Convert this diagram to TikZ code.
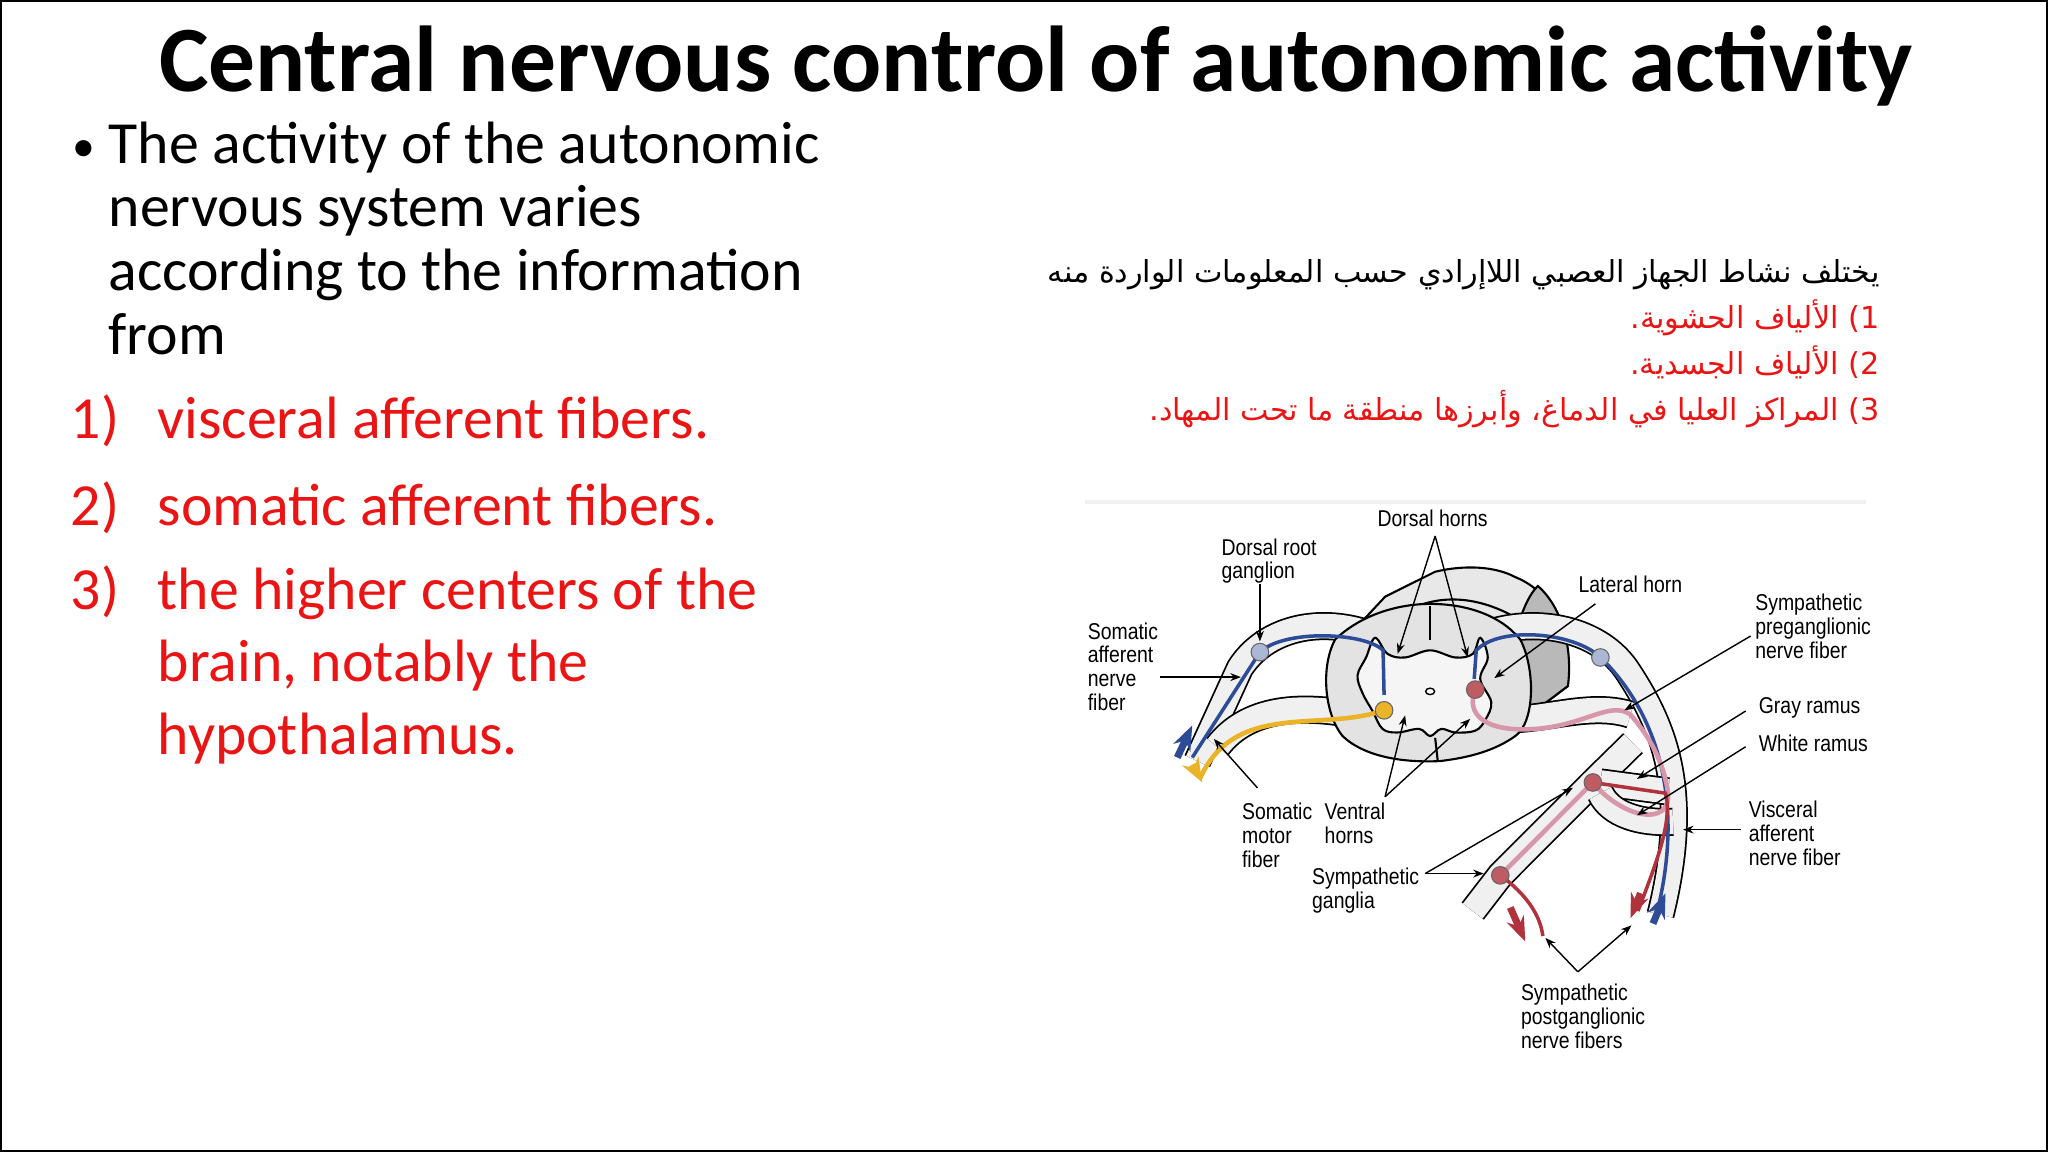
\documentclass[tikz,border=0pt]{standalone}
\usepackage{fontspec}
\setmainfont{Carlito}
\newfontfamily\labelfont[FakeStretch=0.85]{Liberation Sans}
\newfontfamily\arabicfont[Script=Arabic]{DejaVu Sans}
\TeXXeTstate=1
\usetikzlibrary{arrows.meta, positioning}
\definecolor{slidered}{RGB}{235,20,20}
\definecolor{fiberblue}{RGB}{45,75,150}
\definecolor{fiberyellow}{RGB}{235,180,40}
\definecolor{fiberpink}{RGB}{215,150,170}
\definecolor{fiberred}{RGB}{175,50,60}
\tikzset{
  bodytext/.style={anchor=base west, inner sep=0pt, font=\fontsize{17}{20}\selectfont},
  listtext/.style={bodytext, text=slidered},
  artext/.style={anchor=base east, inner sep=0pt, font=\arabicfont\fontsize{8.6}{10}\selectfont},
  lbl/.style={anchor=north west, inner sep=0pt, align=left, font=\labelfont\fontsize{6.5}{6.8}\selectfont},
  nerve/.style={draw=black, line width=0.5pt, double=gray!12, double distance=7pt},
  fiber/.style={line width=1pt},
  lead/.style={-{Stealth[length=3pt]}, line width=0.4pt},
  cell/.style={circle, inner sep=0pt, minimum size=5pt, draw=black!60, line width=0.3pt}
}
\begin{document}
\begin{tikzpicture}[x=0.01cm, y=-0.01cm]
\useasboundingbox (0,0) rectangle (2048,1152);
\draw[line width=0.8pt] (0.5,0.5) rectangle (2047.5,1151.5);

% Title
\node[inner sep=0pt, font=\bfseries\fontsize{26.6}{30}\selectfont] (title) at (1036,66) {Central nervous control of autonomic activity};

% Bullet
\node[bodytext, font=\fontsize{13}{20}\selectfont] (bullet) at (72,162) {\textbullet};
\node[bodytext] (line1) at (108,164) {The activity of the autonomic};
\node[bodytext] (line2) at (108,227) {nervous system varies};
\node[bodytext] (line3) at (108,291) {according to the information};
\node[bodytext] (line4) at (108,355) {from};

% Numbered list
\node[listtext] (num1) at (70,439) {1)};
\node[listtext] (item1) at (157,439) {visceral afferent fibers.};
\node[listtext] (num2) at (70,525) {2)};
\node[listtext] (item2) at (157,525) {somatic afferent fibers.};
\node[listtext] (num3) at (70,610) {3)};
\node[listtext] (item3a) at (157,610) {the higher centers of the};
\node[listtext] (item3b) at (157,682) {brain, notably the};
\node[listtext] (item3c) at (157,754) {hypothalamus.};

% Arabic text
\node[artext] (ar1) at (1880,283) {\beginR يختلف نشاط الجهاز العصبي اللاإرادي حسب المعلومات الواردة منه\endR};
\node[artext, text=slidered] (ar2) at (1880,329) {\beginR\beginL 1)\endL{} الألياف الحشوية.\endR};
\node[artext, text=slidered] (ar3) at (1880,375) {\beginR\beginL 2)\endL{} الألياف الجسدية.\endR};
\node[artext, text=slidered] (ar4) at (1880,421) {\beginR\beginL 3)\endL{} المراكز العليا في الدماغ، وأبرزها منطقة ما تحت المهاد.\endR};

% Spinal cord diagram
\begin{scope}[xshift=10.84cm, yshift=-5cm, x=0.005cm, y=-0.00357cm]
\draw[gray!12, line width=1pt] (0,5) -- (1560,5);
% cord seen from behind
\draw[fill=gray!18, line width=0.6pt] (520,390) -- (600,270) -- (700,200) .. controls (760,180) and (820,185) .. (860,215)
  .. controls (940,260) and (970,380) .. (965,520) -- (880,610) -- cycle;
\draw[fill=gray!55, line width=0.6pt] (860,390) .. controls (870,310) and (890,260) .. (905,240)
  .. controls (955,300) and (975,420) .. (965,520) -- (880,610) -- cycle;
\draw[line width=0.6pt] (620,330) .. controls (680,270) and (760,255) .. (850,320);
% nerves and sympathetic chain
\draw[nerve] (580,380) .. controls (470,320) and (360,360) .. (310,470) -- (225,730);
\draw[nerve] (570,610) .. controls (450,570) and (330,570) .. (265,690);
\draw[nerve] (790,380) .. controls (900,320) and (1030,360) .. (1085,480) .. controls (1160,640) and (1210,820) .. (1150,1160);
\draw[nerve] (800,610) .. controls (900,630) and (1000,560) .. (1090,600);
\draw[nerve] (1095,680) -- (1015,790) -- (830,1050) -- (775,1150);
\draw[nerve] (1030,790) -- (1165,815);
\draw[nerve] (1030,820) .. controls (1050,880) and (1110,905) .. (1175,900);
% cord cross-section
\draw[fill=gray!22, line width=0.6pt] (500,390) .. controls (560,310) and (640,290) .. (690,290)
  .. controls (760,290) and (830,320) .. (870,390) .. controls (900,470) and (900,620) .. (860,660)
  .. controls (820,700) and (770,720) .. (710,730) .. controls (640,735) and (560,720) .. (515,660)
  .. controls (480,600) and (470,470) .. (500,390);
\draw[line width=0.6pt] (690,295) -- (690,390);
\draw[line width=0.6pt] (700,665) -- (705,728);
\draw[fill=gray!8, line width=0.6pt] plot[smooth cycle, tension=0.6] coordinates {(580,385) (605,430) (640,440) (690,420) (740,440) (775,430) (790,385)
  (805,440) (790,500) (812,565) (800,615) (780,645) (740,650) (712,640) (690,660) (668,640) (625,650) (595,640) (575,590) (555,540) (545,490) (562,440)};
\draw[fill=white, line width=0.4pt] (690,535) circle (9);
% fibers
\draw[fiber, fiberblue] (598,545) -- (596,420) .. controls (560,370) and (400,360) .. (350,425) -- (215,720);
\draw[fiber, fiberyellow, line width=1.3pt] (598,588) .. controls (470,650) and (300,560) .. (230,780);
\draw[fiber, fiberblue] (778,500) -- (782,420) .. controls (830,350) and (980,370) .. (1030,440) .. controls (1120,560) and (1210,800) .. (1140,1170);
\draw[fiber, fiberpink, line width=1.3pt] (780,530) .. controls (760,600) and (800,650) .. (900,640) .. controls (1000,630) and (1050,560) .. (1090,600)
  .. controls (1140,680) and (1160,760) .. (1165,820) .. controls (1170,900) and (1100,900) .. (1035,820) -- (1015,790) -- (830,1050);
\draw[fiber, fiberred] (1015,790) -- (1160,820) .. controls (1175,900) and (1140,1020) .. (1105,1150);
\draw[fiber, fiberred] (830,1050) .. controls (880,1100) and (910,1160) .. (915,1220);
\draw[-{Stealth[length=7pt]}, line width=2pt, fiberblue] (185,720) -- (215,630);
\draw[-{Stealth[length=7pt]}, line width=2pt, fiberyellow] (215,740) -- (235,790);
\draw[-{Stealth[length=7pt]}, line width=2pt, fiberred] (1110,1100) -- (1090,1170);
\draw[-{Stealth[length=7pt]}, line width=2pt, fiberblue] (1135,1185) -- (1160,1100);
\draw[-{Stealth[length=7pt]}, line width=2pt, fiberred] (850,1140) -- (880,1235);
% cell bodies
\node[cell, fill=fiberblue!40] (drg) at (350,425) {};
\node[cell, fill=fiberblue!40] (drgright) at (1030,440) {};
\node[cell, fill=fiberyellow] (motorcell) at (598,588) {};
\node[cell, fill=fiberred!80] (latcell) at (780,530) {};
\node[cell, fill=fiberred!80] (gangup) at (1015,790) {};
\node[cell, fill=fiberred!80] (ganglow) at (830,1050) {};
% labels
\node[lbl, anchor=north] (dorsalhorns) at (695,25) {Dorsal horns};
\node[lbl] (drglabel) at (272,105) {Dorsal root\\ganglion};
\node[lbl] (somaff) at (5,340) {Somatic\\afferent\\nerve\\fiber};
\node[lbl] (lathorn) at (985,210) {Lateral horn};
\node[lbl] (sympre) at (1338,260) {Sympathetic\\preganglionic\\nerve fiber};
\node[lbl] (grayramus) at (1345,550) {Gray ramus};
\node[lbl] (whiteramus) at (1345,655) {White ramus};
\node[lbl] (viscaff) at (1325,840) {Visceral\\afferent\\nerve fiber};
\node[lbl] (sommotor) at (313,845) {Somatic\\motor\\fiber};
\node[lbl] (ventral) at (478,845) {Ventral\\horns};
\node[lbl] (symgang) at (453,1028) {Sympathetic\\ganglia};
\node[lbl] (sympost) at (870,1353) {Sympathetic\\postganglionic\\nerve fibers};
% leader ends
\coordinate (dhtop) at (700,100);
\coordinate (dhleft) at (625,430);
\coordinate (dhright) at (765,440);
\coordinate (drgtip) at (350,395);
\coordinate (saftail) at (150,495);
\coordinate (saftip) at (312,495);
\coordinate (lhtail) at (1020,290);
\coordinate (lhtip) at (818,498);
\coordinate (sptail) at (1330,380);
\coordinate (sptip) at (1078,588);
\coordinate (grtail) at (1320,590);
\coordinate (grtip) at (1103,780);
\coordinate (wrtail) at (1320,690);
\coordinate (wrtip) at (1103,882);
\coordinate (vatail) at (1310,922);
\coordinate (vatip) at (1195,922);
\coordinate (smtail) at (345,805);
\coordinate (smtip) at (258,668);
\coordinate (vhtail) at (600,830);
\coordinate (vhleft) at (640,602);
\coordinate (vhright) at (770,612);
\coordinate (sgtail) at (680,1045);
\coordinate (sgup) at (975,805);
\coordinate (sglow) at (797,1045);
\coordinate (pgtail) at (985,1320);
\coordinate (pgleft) at (920,1225);
\coordinate (pgright) at (1092,1190);
\draw[lead] (dhtop) -- (dhleft);
\draw[lead] (dhtop) -- (dhright);
\draw[lead] (drglabel.south west -| drgtip) -- (drgtip);
\draw[lead] (saftail) -- (saftip);
\draw[lead] (lhtail) -- (lhtip);
\draw[lead] (sptail) -- (sptip);
\draw[lead] (grtail) -- (grtip);
\draw[lead] (wrtail) -- (wrtip);
\draw[lead] (vatail) -- (vatip);
\draw[lead] (smtail) -- (smtip);
\draw[lead] (vhtail) -- (vhleft);
\draw[lead] (vhtail) -- (vhright);
\draw[lead] (sgtail) -- (sgup);
\draw[lead] (sgtail) -- (sglow);
\draw[lead] (pgtail) -- (pgleft);
\draw[lead] (pgtail) -- (pgright);
\end{scope}
\end{tikzpicture}
\end{document}
